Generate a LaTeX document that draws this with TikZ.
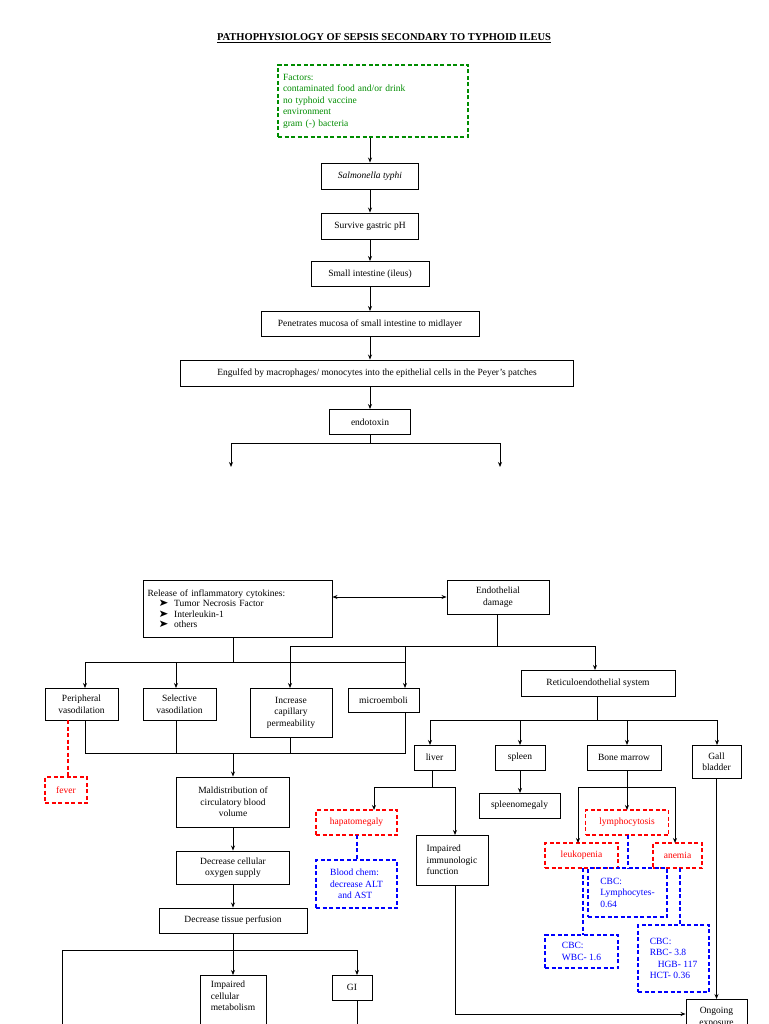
\documentclass[tikz,border=0pt]{standalone}
\usepackage{fontspec}
\usepackage{pifont}
\setmainfont{Liberation Serif}
\usetikzlibrary{arrows.meta}
\definecolor{dgreen}{RGB}{0,140,0}
\begin{document}
\begin{tikzpicture}[x=1pt,y=-1pt,
  every node/.style={font=\fontsize{9.5}{11.5}\selectfont},
  dsh/.style={dash pattern=on 4pt off 2.5pt},
  box/.style={draw,line width=0.9pt,align=center,inner sep=2pt},
  rbox/.style={draw=red,line width=1.2pt,dsh,text=red,align=center,inner sep=2pt},
  bbox/.style={draw=blue,line width=1.2pt,dsh,text=blue,align=left,inner sep=2pt},
  ar/.style={line width=0.9pt,-{Stealth[length=5pt,width=4pt]}},
  ln/.style={line width=0.9pt},
  rl/.style={draw=red,line width=1.2pt,dsh},
  bl/.style={draw=blue,line width=1.2pt,dsh}]
\useasboundingbox (0,0) rectangle (768,1024);
% Title
\node (title) at (384,38) {\fontsize{10.5}{12}\selectfont\bfseries\underline{PATHOPHYSIOLOGY OF SEPSIS SECONDARY TO TYPHOID ILEUS}};
% top chain
\node[draw=dgreen,line width=1.2pt,dsh,text=dgreen,align=left,minimum width=190pt,minimum height=72pt,text width=180pt] (fac) at (373,101)
 {Factors:\\contaminated food and/or drink\\no typhoid vaccine\\environment\\gram (-) bacteria};
\node[box,minimum width=97pt,minimum height=26pt] (sal) at (370,176) {\itshape Salmonella typhi};
\node[box,minimum width=97pt,minimum height=26pt] (gas) at (370,226) {Survive gastric pH};
\node[box,minimum width=118pt,minimum height=25pt] (sin) at (370,274) {Small intestine (ileus)};
\node[box,minimum width=218pt,minimum height=25pt] (pen) at (370,324) {Penetrates mucosa of small intestine to midlayer};
\node[box,minimum width=393pt,minimum height=26pt] (eng) at (377,373) {Engulfed by macrophages/ monocytes into the epithelial cells in the Peyer’s patches};
\node[box,minimum width=81pt,minimum height=25pt] (endo) at (370,422) {endotoxin};
\draw[ar] (fac.south -| sal.north) -- (sal.north);
\draw[ar] (sal) -- (gas);
\draw[ar] (gas) -- (sin);
\draw[ar] (sin) -- (pen);
\draw[ar] (pen) -- (pen.south |- eng.north);
\draw[ar] (eng.south -| endo.north) -- (endo.north);
\coordinate (sL) at (231,467); \coordinate (sR) at (500,467);
\draw[ln] (endo.south) -- (370,443);
\draw[ln] (231,443) -- (500,443);
\draw[ar] (231,443) -- (sL);
\draw[ar] (500,443) -- (sR);
% second part
\node[box,minimum width=189pt,minimum height=57pt,align=left,text width=180pt] (rel) at (237.5,608.5)
 {Release of inflammatory cytokines:\\[-1pt]
 \hspace*{12pt}\ding{228}\hspace{6pt}Tumor Necrosis Factor\\[-1pt]
 \hspace*{12pt}\ding{228}\hspace{6pt}Interleukin-1\\[-1pt]
 \hspace*{12pt}\ding{228}\hspace{6pt}others};
\node[box,minimum width=102pt,minimum height=34pt] (ed) at (498,597) {Endothelial\\damage};
\draw[line width=0.9pt,{Stealth[length=5pt,width=4pt]}-{Stealth[length=5pt,width=4pt]}] (rel.east |- ed.west) -- (ed.west);
\node[box,minimum width=73pt,minimum height=32pt] (per) at (81.5,704) {Peripheral\\vasodilation};
\node[box,minimum width=73pt,minimum height=32pt] (sel) at (179.5,704) {Selective\\vasodilation};
\node[box,minimum width=82pt,minimum height=49pt] (cap) at (291,712.5) {Increase\\capillary\\permeability};
\node[box,minimum width=71pt,minimum height=24pt,anchor=north] (mic) at (383.5,688) {microemboli};
\draw[ln] (233,637) -- (233,662);
\draw[ln] (85,662) -- (405,662);
\draw[ar] (85,662) -- (85,688);
\draw[ar] (176,662) -- (176,688);
\draw[ln] (497,614) -- (497,646);
\draw[ln] (290,646) -- (595,646);
\draw[ar] (290,646) -- (290,688);
\draw[ar] (405,646) -- (405,688);
\node[box,minimum width=154pt,minimum height=26pt] (ret) at (598,683) {Reticuloendothelial system};
\draw[ar] (595,646) -- (595,670);
% merge
\draw[ln] (85,720) -- (85,753) -- (405,753) -- (405,712);
\draw[ln] (176,720) -- (176,753);
\draw[ln] (290,737) -- (290,753);
\node[box,minimum width=113pt,minimum height=50pt] (mal) at (233,802) {Maldistribution of\\circulatory blood\\volume};
\draw[ar] (233,753) -- (mal.north);
\node[rbox,minimum width=42pt,minimum height=26pt] (fev) at (66,790) {fever};
\draw[rl] (68,720) -- (68,777);
\node[box,minimum width=113pt,minimum height=33pt] (dco) at (233,867.5) {Decrease cellular\\oxygen supply};
\node[box,minimum width=148pt,minimum height=25pt] (dtp) at (233,920.5) {Decrease tissue perfusion};
\draw[ar] (mal) -- (dco);
\draw[ar] (dco) -- (dtp);
\node[box,minimum width=66pt,minimum height=60pt,anchor=north,align=left] (icm) at (233,975) {Impaired\\cellular\\metabolism\\[8pt]};
\node[box,minimum width=40pt,minimum height=25pt] (gi) at (352,987.5) {GI};
\draw[ln] (dtp.south) -- (233,950);
\draw[ln] (62,1030) -- (62,950) -- (357,950);
\draw[ar] (233,950) -- (233,975);
\draw[ar] (357,950) -- (357,975);
\draw[ln] (357,1000) -- (357,1030);
% RES branch
\draw[ln] (597,696) -- (597,720);
\draw[ln] (430,720) -- (717,720);
\node[box,minimum width=41pt,minimum height=25pt] (liv) at (434.5,757.5) {liver};
\node[box,minimum width=50pt,minimum height=25pt] (spl) at (520,757.5) {spleen};
\node[box,minimum width=74pt,minimum height=25pt] (bm) at (624,757.5) {Bone marrow};
\node[box,minimum width=49pt,minimum height=33pt,anchor=north] (gb) at (716.5,745) {Gall\\bladder};
\draw[ar] (430,720) -- (430,745);
\draw[ar] (520,720) -- (520,745);
\draw[ar] (627,720) -- (627,745);
\draw[ar] (717,720) -- (717,745);
% liver
\node[rbox,minimum width=81pt,minimum height=25pt] (hep) at (356.5,822.5) {hapatomegaly};
\node[bbox,minimum width=81pt,minimum height=48pt] (bch) at (356.5,884) {Blood chem:\\decrease ALT\\\hspace*{8pt}and AST};
\node[box,minimum width=72pt,minimum height=50pt,align=left] (iif) at (452,860) {Impaired\\immunologic\\function};
\draw[ln] (432,770) -- (432,787);
\draw[ln] (374,787) -- (455,787);
\draw[ar] (374,787) -- (374,810);
\draw[ar] (455,787) -- (455,835);
\draw[bl] (357,835) -- (357,860);
% spleen
\node[box,minimum width=81pt,minimum height=25pt] (spm) at (519.5,805.5) {spleenomegaly};
\draw[ar] (520,770) -- (520,793);
% bone marrow
\node[rbox,minimum width=83pt,minimum height=25pt] (lym) at (627,822.5) {lymphocytosis};
\node[rbox,minimum width=73pt,minimum height=25pt] (leu) at (581.5,855.5) {leukopenia};
\node[rbox,minimum width=49pt,minimum height=25pt] (ane) at (677.5,855.5) {anemia};
\node[bbox,minimum width=79pt,minimum height=49pt] (cl) at (627.5,892.5) {CBC:\\Lymphocytes-\\0.64};
\node[bbox,minimum width=73pt,minimum height=33pt] (cw) at (581.5,951.5) {CBC:\\WBC- 1.6};
\node[bbox,minimum width=71pt,minimum height=67pt] (cr) at (673.5,958.5) {CBC:\\RBC- 3.8\\\hspace*{8pt}HGB- 117\\HCT- 0.36};
\draw[ln] (627,770) -- (627,787);
\draw[ln] (578,787) -- (675,787);
\draw[ar] (627,787) -- (627,810);
\draw[ar] (578,787) -- (578,843);
\draw[ar] (675,787) -- (675,843);
\draw[bl] (628,835) -- (628,868);
\draw[bl] (583,868) -- (583,935);
\draw[bl] (680,868) -- (680,925);
% ongoing
\node[box,minimum width=61pt,minimum height=36pt,anchor=north] (ong) at (716.5,999) {Ongoing\\exposure};
\draw[ar] (gb.south) -- (ong.north);
\draw[ar] (455,885) -- (455,1014) -- (ong.west |- 0,1014);
\end{tikzpicture}
\end{document}
